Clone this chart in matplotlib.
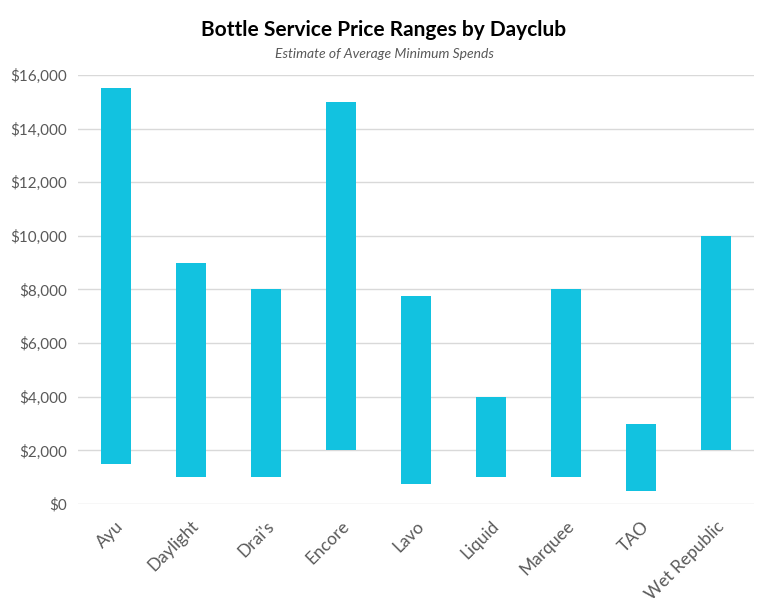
import matplotlib.pyplot as plt
from matplotlib.ticker import FuncFormatter

# Data: estimated min/max bottle service spend per dayclub
clubs = ['Ayu', 'Daylight', "Drai's", 'Encore', 'Lavo', 'Liquid', 'Marquee', 'TAO', 'Wet Republic']
low_spend = [1500, 1000, 1000, 2000, 750, 1000, 1000, 500, 2000]
high_spend = [15500, 9000, 8000, 15000, 7750, 4000, 8000, 3000, 10000]

plt.rcParams['font.family'] = ['Lato', 'DejaVu Sans']

fig = plt.figure(figsize=(7.68, 6.12), dpi=100)
ax = fig.add_axes([0.1016, 0.1765, 0.8802, 0.701])

heights = [h - l for l, h in zip(low_spend, high_spend)]
ax.bar(range(len(clubs)), heights, bottom=low_spend, width=0.4, color='#12C2E0', zorder=3)

ax.set_xlim(-0.5, len(clubs) - 0.5)
ax.set_ylim(0, 16000)
ax.set_yticks(range(0, 16001, 2000))
ax.yaxis.set_major_formatter(FuncFormatter(lambda v, p: f"${v:,.0f}"))
ax.grid(axis='y', color='#D9D9D9', linewidth=1, zorder=0)
for s in ax.spines.values():
    s.set_visible(False)
ax.tick_params(axis='both', length=0, colors='#595959')
ax.tick_params(axis='y', labelsize=11, pad=8)
ax.tick_params(axis='x', labelsize=12.5, pad=10)
ax.set_xticks(range(len(clubs)))
ax.set_xticklabels(clubs, rotation=45, ha='right', rotation_mode='anchor')

fig.text(0.5, 0.951, 'Bottle Service Price Ranges by Dayclub', ha='center', va='center',
         fontsize=15, fontweight='bold', color='black')
fig.text(0.5, 0.912, 'Estimate of Average Minimum Spends', ha='center', va='center',
         fontsize=10, style='italic', color='#595959')

plt.savefig('out.png', dpi=100)
